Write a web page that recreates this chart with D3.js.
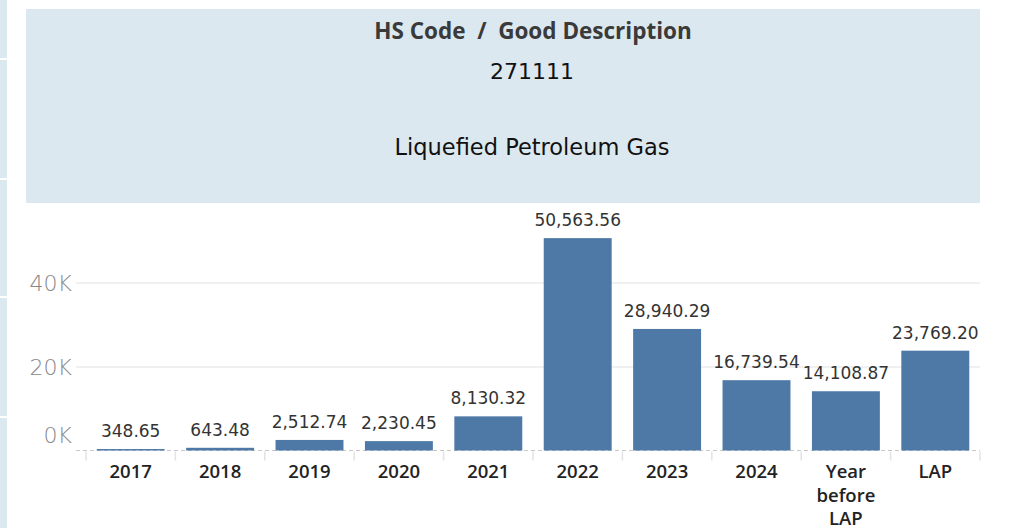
<!DOCTYPE html>
<html>
<head>
<meta charset="utf-8">
<script src="https://cdn.jsdelivr.net/npm/d3@7"></script>
<style>
  body { margin: 0; background: #fff; }
  svg { display: block; font-family: "DejaVu Sans", sans-serif; }
</style>
</head>
<body>
<svg id="chart"></svg>
<script>
// Chart data
const categories = ["2017", "2018", "2019", "2020", "2021", "2022", "2023", "2024", "Year before LAP", "LAP"];
const values = [348.65, 643.48, 2512.74, 2230.45, 8130.32, 50563.56, 28940.29, 16739.54, 14108.87, 23769.20];
const yTicks = [0, 20000, 40000];
const headerTitle = ["HS Code", "/", "Good Description"];
const hsCode = "271111";
const goodDescription = "Liquefied Petroleum Gas";

const svgWidth = 1012;
const svgHeight = 528;

const svg = d3.select("#chart")
    .attr("width", svgWidth)
    .attr("height", svgHeight);

// Left side strips (dashboard filler)
const strips = [[0, 58], [60, 178], [180, 296], [298, 416], [418, 528]];
svg.selectAll(".strip")
    .data(strips)
    .enter()
    .append("rect")
    .attr("class", "strip")
    .attr("x", 0)
    .attr("y", d => d[0])
    .attr("width", 7)
    .attr("height", d => d[1] - d[0])
    .attr("fill", "#dce8ef");

// Header panel
svg.append("rect")
    .attr("x", 26)
    .attr("y", 9)
    .attr("width", 954)
    .attr("height", 194)
    .attr("fill", "#dce8ef");

svg.append("text")
    .attr("x", 533)
    .attr("y", 39)
    .attr("text-anchor", "middle")
    .attr("font-family", "Open Sans, sans-serif")
    .attr("font-size", 22.5)
    .attr("font-weight", 700)
    .attr("fill", "#3a3a3a")
    .style("white-space", "pre")
    .text(headerTitle.join("  "));

svg.append("text")
    .attr("x", 532)
    .attr("y", 79)
    .attr("text-anchor", "middle")
    .attr("font-size", 22)
    .attr("fill", "#111")
    .text(hsCode);

svg.append("text")
    .attr("x", 532)
    .attr("y", 155)
    .attr("text-anchor", "middle")
    .attr("font-size", 22.5)
    .attr("fill", "#111")
    .text(goodDescription);

// Scales
const x = d3.scaleBand()
    .domain(categories)
    .range([86, 980])
    .paddingInner(0.24)
    .paddingOuter(0.12);

const y = d3.scaleLinear()
    .domain([0, 55000])
    .range([450.5, 219.5]);

// Gridlines
svg.append("g")
    .attr("transform", "translate(76,0)")
    .call(d3.axisLeft(y).tickValues(yTicks.filter(d => d > 0)).tickSize(-904).tickFormat(""))
    .call(g => g.select(".domain").remove())
    .call(g => g.selectAll("line").attr("stroke", "#ebebeb").attr("stroke-width", 1.5));

// Y axis labels
svg.append("g")
    .attr("transform", "translate(72,0)")
    .call(d3.axisLeft(y).tickValues(yTicks).tickSize(0).tickPadding(0).tickFormat(d => d / 1000 + "K"))
    .call(g => g.select(".domain").remove())
    .call(g => g.selectAll("text")
        .attr("font-family", "DejaVu Sans, sans-serif")
        .attr("font-size", 22)
        .attr("font-weight", 200)
        .attr("fill", "#888")
        .attr("dy", d => d === 0 ? "-0.35em" : "0.36em"));

// Baseline (dashed)
svg.append("line")
    .attr("x1", 76)
    .attr("x2", 980)
    .attr("y1", y(0))
    .attr("y2", y(0))
    .attr("stroke", "#c8c8c8")
    .attr("stroke-dasharray", "4,3");

// Category divider ticks
const step = x.step();
const boundaries = d3.range(categories.length + 1).map(i => x.range()[0] + i * step);
svg.selectAll(".divider")
    .data(boundaries)
    .enter()
    .append("line")
    .attr("class", "divider")
    .attr("x1", d => d)
    .attr("x2", d => d)
    .attr("y1", y(0) + 1)
    .attr("y2", y(0) + 10)
    .attr("stroke", "#e3e3e3")
    .attr("stroke-width", 1.5);

// Bars
const data = categories.map((c, i) => ({ category: c, value: values[i] }));

svg.selectAll(".bar")
    .data(data)
    .enter()
    .append("rect")
    .attr("class", "bar")
    .attr("x", d => x(d.category))
    .attr("y", d => y(d.value))
    .attr("width", x.bandwidth())
    .attr("height", d => y(0) - y(d.value))
    .attr("fill", "#4e79a7");

// Value labels
const fmt = d3.format(",.2f");
svg.selectAll(".value-label")
    .data(data)
    .enter()
    .append("text")
    .attr("class", "value-label")
    .attr("x", d => x(d.category) + x.bandwidth() / 2)
    .attr("y", d => y(d.value) - 12)
    .attr("text-anchor", "middle")
    .attr("font-size", 17)
    .attr("fill", "#333")
    .text(d => fmt(d.value));

// X axis labels (wrapped)
const xLabels = svg.selectAll(".x-label")
    .data(categories)
    .enter()
    .append("text")
    .attr("class", "x-label")
    .attr("x", d => x(d) + x.bandwidth() / 2)
    .attr("y", 478)
    .attr("text-anchor", "middle")
    .attr("font-family", "Open Sans, sans-serif")
    .attr("font-size", 18.5)
    .attr("font-weight", 600)
    .attr("fill", "#222");

xLabels.each(function(d) {
    const el = d3.select(this);
    d.split(" ").forEach((w, i) => {
        el.append("tspan")
            .attr("x", x(d) + x.bandwidth() / 2)
            .attr("dy", i === 0 ? 0 : 23.5)
            .text(w);
    });
});
</script>
</body>
</html>
